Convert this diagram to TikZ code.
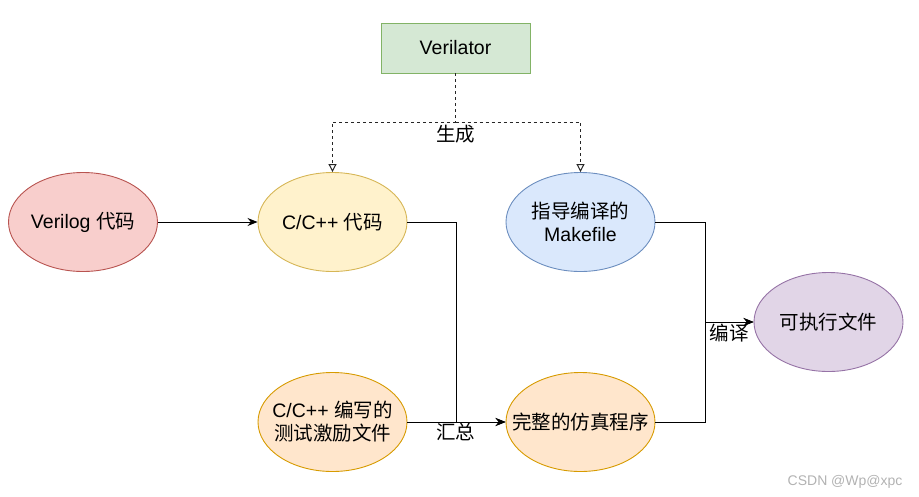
\documentclass[tikz,border=0pt]{standalone}
\usepackage{fontspec}
\setmainfont{Liberation Sans}
\newfontfamily\cjk{Noto Sans CJK SC}
\usetikzlibrary{shapes.geometric,arrows.meta}
\definecolor{fgreen}{HTML}{D5E8D4}\definecolor{dgreen}{HTML}{82B366}
\definecolor{fred}{HTML}{F8CECC}\definecolor{dred}{HTML}{B85450}
\definecolor{fyellow}{HTML}{FFF2CC}\definecolor{dyellow}{HTML}{D6B656}
\definecolor{fblue}{HTML}{DAE8FC}\definecolor{dblue}{HTML}{6C8EBF}
\definecolor{forange}{HTML}{FFE6CC}\definecolor{dorange}{HTML}{D79B00}
\definecolor{fpurple}{HTML}{E1D5E7}\definecolor{dpurple}{HTML}{9673A6}
\begin{document}
\begin{tikzpicture}[x=1pt,y=-1pt,
  every node/.style={font=\fontsize{19.5}{23}\selectfont},
  ell/.style={ellipse, draw, line width=0.9pt, minimum width=149pt, minimum height=99pt, inner sep=-30pt, align=center},
  conn/.style={draw=black, line width=1pt, -{Stealth[length=10pt,width=8pt]}},
  gen/.style={draw=black!85, line width=1pt, dash pattern=on 3pt off 3pt, -{Triangle[open,length=8pt,width=8pt]}},
  lbl/.style={inner sep=1pt}]
\useasboundingbox (0,0) rectangle (919,496);
\node[draw=dgreen, fill=fgreen, minimum width=149pt, minimum height=50pt, inner sep=0pt, line width=0.9pt] (ver) at (455.5,48) {Verilator};
\node[ell, fill=fred, draw=dred] (vl) at (83,222) {Verilog {\cjk 代码}};
\node[ell, fill=fyellow, draw=dyellow] (cc) at (332.5,222) {C/C++ {\cjk 代码}};
\node[ell, fill=fblue, draw=dblue] (mk) at (580.5,222) {{\cjk 指导编译的}\\Makefile};
\node[ell, fill=forange, draw=dorange] (tb) at (332.5,422) {C/C++ {\cjk 编写的}\\{\cjk 测试激励文件}};
\node[ell, fill=forange, draw=dorange] (sim) at (580.5,422) {{\cjk 完整的仿真程序}};
\node[ell, fill=fpurple, draw=dpurple] (exe) at (828.5,322) {{\cjk 可执行文件}};
\coordinate (split) at (455.5,122);
\draw[gen] (ver.south) -- (split) -| (cc.north);
\draw[gen] (split) -| (mk.north);
\draw[conn] (vl.east) -- (cc.west);
\draw[conn] (cc.east) -- ++(49,0) |- (sim.west);
\draw[conn] (tb.east) -- (sim.west);
\draw[conn] (mk.east) -- ++(50,0) |- (exe.west);
\draw[conn] (sim.east) -- ++(50,0) |- (exe.west);
\node[lbl] (l1) at (455.5,134) {\cjk 生成};
\node[lbl] (l2) at (455.5,432) {\cjk 汇总};
\node[lbl] (l3) at (729,333) {\cjk 编译};
\node[text=black!30, font=\fontsize{14}{16}\selectfont, anchor=east] (wm) at (906,482) {CSDN @Wp@xpc};
\end{tikzpicture}
\end{document}
